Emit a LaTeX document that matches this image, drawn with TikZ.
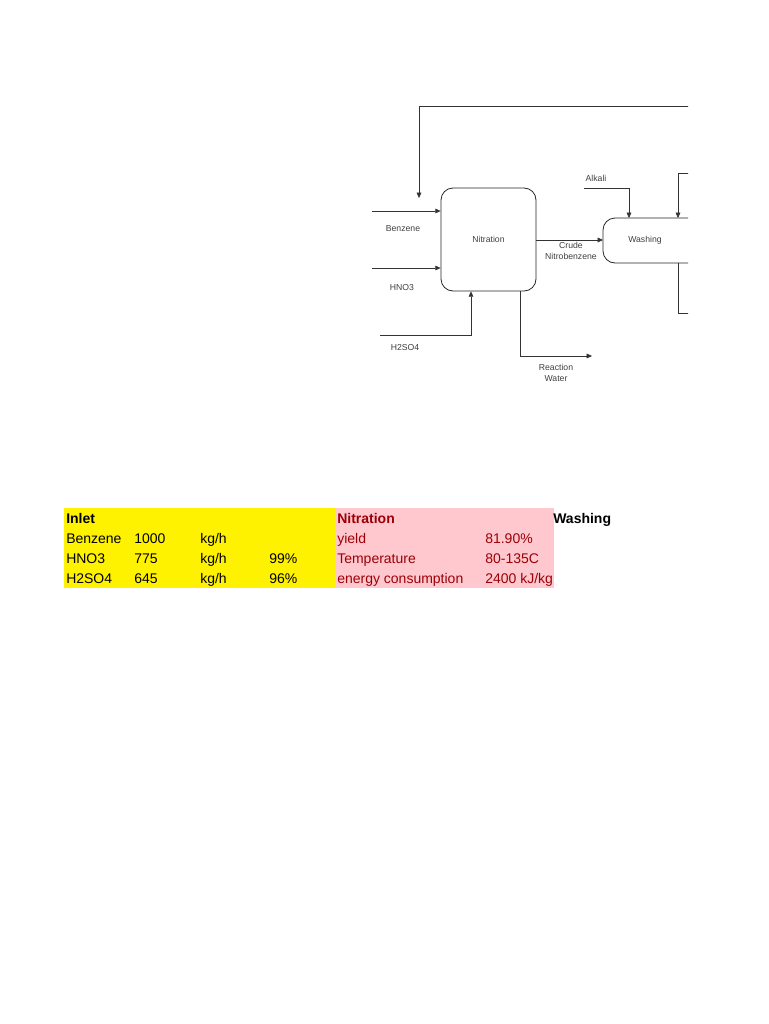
\documentclass[tikz,border=0pt]{standalone}
\usepackage{fontspec}
\setmainfont{Liberation Sans}
\usetikzlibrary{arrows.meta}
\definecolor{dred}{RGB}{156,0,6}
\definecolor{pinkbg}{RGB}{255,199,206}
\tikzset{
  proc/.style={draw=black!85, line width=0.6pt, rounded corners=9pt, inner sep=0pt},
  flow/.style={draw=black!80, -{Triangle[length=4pt,width=3.5pt]}},
  line/.style={draw=black!80},
  lbl/.style={font=\fontsize{6.5}{8}\selectfont, align=center, text=black!75},
  cell/.style={anchor=base west, font=\fontsize{10.5}{12}\selectfont, inner sep=0pt},
}
\begin{document}
\begin{tikzpicture}[x=0.75pt,y=-0.75pt]
\useasboundingbox (0,0) rectangle (768,1024);
\fill[white] (0,0) rectangle (768,1024);
\begin{scope}
\clip (0,0) rectangle (688,1024);
\node[proc, minimum width=71.25pt, minimum height=77.25pt] (nit) at (488.5,239.5) {};
\node[lbl] at (nit.center) {Nitration};
\node[proc, minimum width=75pt, minimum height=33.75pt] (wash) at (653,240.5) {};
\node[lbl] at (645,240) {Washing};
\coordinate (t1) at (700,106);
\coordinate (t2) at (419,106);
\coordinate (t3) at (419,198);
\draw[flow] (t1) -- (t2) -- (t3);
\coordinate (o1) at (700,173);
\coordinate (o2) at (678,173);
\coordinate (o3) at (678,218);
\draw[flow] (o1) -- (o2) -- (o3);
\coordinate (b1) at (678,263);
\coordinate (b2) at (678,313);
\coordinate (b3) at (700,313);
\draw[line] (b1) -- (b2) -- (b3);
\end{scope}
\coordinate (bz) at (372,211);
\draw[flow] (bz) -- (nit.west |- bz);
\node[lbl] at (403,229) {Benzene};
\coordinate (hn) at (372,268);
\draw[flow] (hn) -- (nit.west |- hn);
\node[lbl] at (402,288) {HNO3};
\coordinate (hs1) at (380,335);
\coordinate (hs2) at (471,335);
\draw[flow] (hs1) -- (hs2) -- (nit.south -| hs2);
\node[lbl] at (405,348) {H2SO4};
\coordinate (cr) at (536,240);
\draw[flow] (cr) -- (603,240);
\node[lbl] at (571,251) {Crude\\Nitrobenzene};
\coordinate (rw1) at (520,291);
\coordinate (rw2) at (520,356);
\coordinate (rw3) at (592,356);
\draw[flow] (rw1) -- (rw2) -- (rw3);
\node[lbl] at (556,373) {Reaction\\Water};
\node[lbl] at (596,178) {Alkali};
\coordinate (a1) at (584,188);
\coordinate (a2) at (629,188);
\coordinate (a3) at (629,218);
\draw[flow] (a1) -- (a2) -- (a3);
% table
\fill[yellow] (64,508) rectangle (335,588);
\fill[pinkbg] (335,508) rectangle (554,588);
\node[cell, font=\fontsize{10.5}{12}\selectfont\bfseries] at (66,523) {Inlet};
\node[cell] at (66,543) {Benzene};
\node[cell] at (134,543) {1000};
\node[cell] at (200,543) {kg/h};
\node[cell] at (66,563) {HNO3};
\node[cell] at (134,563) {775};
\node[cell] at (200,563) {kg/h};
\node[cell] at (269,563) {99\%};
\node[cell] at (66,583) {H2SO4};
\node[cell] at (134,583) {645};
\node[cell] at (200,583) {kg/h};
\node[cell] at (269,583) {96\%};
\begin{scope}[every node/.append style={text=dred}]
\node[cell, font=\fontsize{10.5}{12}\selectfont\bfseries] at (337,523) {Nitration};
\node[cell] at (337,543) {yield};
\node[cell] at (485,543) {81.90\%};
\node[cell] at (337,563) {Temperature};
\node[cell] at (485,563) {80-135C};
\node[cell] at (337,583) {energy consumption};
\node[cell] at (485,583) {2400 kJ/kg};
\end{scope}
\node[cell, font=\fontsize{10.5}{12}\selectfont\bfseries] at (553,523) {Washing};
\end{tikzpicture}
\end{document}
